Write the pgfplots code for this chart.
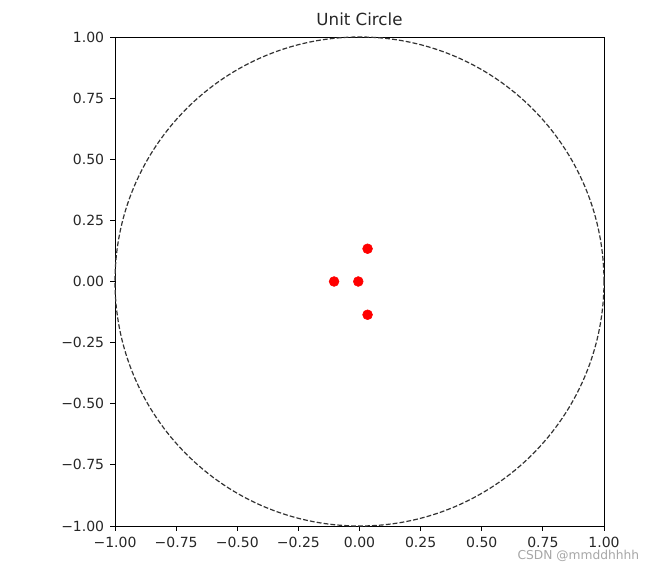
\documentclass[border=0pt]{standalone}
\usepackage{pgfplots}
\pgfplotsset{compat=1.18}
\usepackage{fontspec}
\setmainfont{DejaVu Sans}
\begin{document}
\begin{tikzpicture}[x=1pt,y=1pt]
\begin{axis}[
  scale only axis,
  width=366.75pt, height=366.75pt,
  xmin=-1, xmax=1, ymin=-1, ymax=1,
  axis line style={black, line width=0.7pt},
  xtick={-1,-0.75,-0.5,-0.25,0,0.25,0.5,0.75,1},
  ytick={-1,-0.75,-0.5,-0.25,0,0.25,0.5,0.75,1},
  xticklabels={−1.00,−0.75,−0.50,−0.25,0.00,0.25,0.50,0.75,1.00},
  yticklabels={−1.00,−0.75,−0.50,−0.25,0.00,0.25,0.50,0.75,1.00},
  tick align=outside, tick pos=left,
  major tick length=3.6pt,
  tick style={black, line width=0.7pt},
  ticklabel style={font=\fontsize{10.5}{12}\selectfont, text=black!85},
  xticklabel style={yshift=-1pt},
  yticklabel style={xshift=-1pt},
  title={Unit Circle},
  title style={font=\fontsize{12.5}{14}\selectfont, text=black!85, yshift=-1pt},
  clip=false,
]
\draw[black!80, line width=0.9pt, dash pattern=on 3.6pt off 1.6pt] (axis cs:0,0) circle [radius=1];
\addplot[only marks, mark=*, mark size=3.7pt, color=red, mark options={draw=red, fill=red}] coordinates {
  (0.033, 0.134) (-0.104, 0) (-0.005, 0) (0.033, -0.136)
};
\end{axis}
\node[anchor=east, text=black!35, font=\fontsize{9.2}{11}\selectfont, inner sep=0pt] at ([xshift=393.4pt, yshift=-22.5pt]current axis.south west) {CSDN @mmddhhhh};
\path ([xshift=-86.25pt, yshift=-33.75pt]current axis.south west) rectangle ++(490.5pt, 428.25pt);
\end{tikzpicture}
\end{document}
